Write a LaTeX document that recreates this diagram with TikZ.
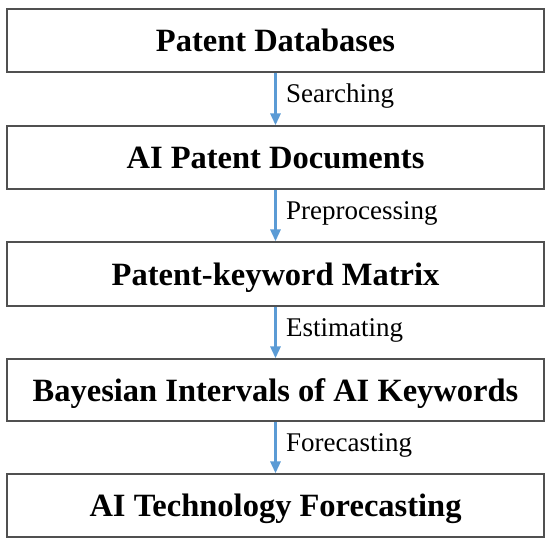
\documentclass[tikz,border=0pt]{standalone}
\usepackage{fontspec}
\setmainfont{Liberation Serif}
\usetikzlibrary{arrows.meta}
\definecolor{arrblue}{HTML}{5B9BD5}
\definecolor{boxgray}{HTML}{505050}
\begin{document}
\begin{tikzpicture}[x=1pt,y=-1pt,
  stage/.style={draw=boxgray, line width=1.3pt, minimum width=537pt, inner sep=0pt,
    text height=23pt, text depth=0pt, font=\fontsize{32.5}{38}\selectfont\bfseries},
  flow/.style={draw=arrblue, line width=3pt, -{Triangle[width=10pt,length=12pt]}},
  lbl/.style={anchor=base west, inner sep=0pt, font=\fontsize{27}{32}\selectfont}
]
\useasboundingbox (0,0) rectangle (550,548);
\node[stage, minimum height=63pt] (b1) at (275.5,40.5) {Patent Databases};
\node[stage, minimum height=63pt] (b2) at (275.5,157.5) {AI Patent Documents};
\node[stage, minimum height=64pt] (b3) at (275.5,274) {Patent-keyword Matrix};
\node[stage, minimum height=62pt] (b4) at (275.5,390) {Bayesian Intervals of AI Keywords};
\node[stage, minimum height=63pt] (b5) at (275.5,505.5) {AI Technology Forecasting};
\draw[flow] (b1.south) -- (b2.north);
\draw[flow] (b2.south) -- (b3.north);
\draw[flow] (b3.south) -- (b4.north);
\draw[flow] (b4.south) -- (b5.north);
\node[lbl] (l1) at (286,103) {Searching};
\node[lbl] (l2) at (286,220) {Preprocessing};
\node[lbl] (l3) at (286,337) {Estimating};
\node[lbl] (l4) at (286,452) {Forecasting};
\end{tikzpicture}
\end{document}
